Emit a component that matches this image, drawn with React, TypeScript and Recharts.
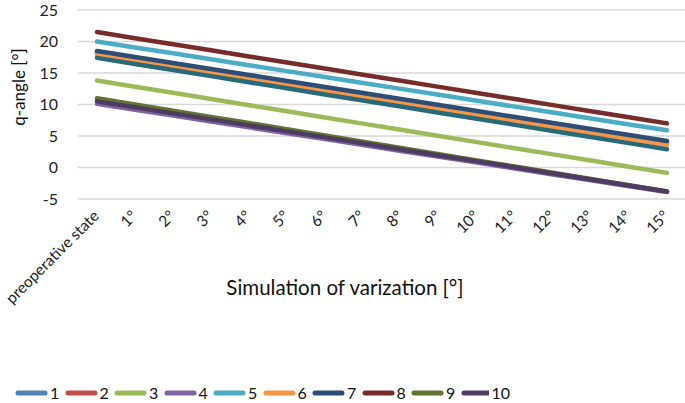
import React from "react"
import { LineChart, Line, XAxis, YAxis, CartesianGrid } from "recharts"

const categories = [
  "preoperative state", "1°", "2°", "3°", "4°", "5°", "6°", "7°",
  "8°", "9°", "10°", "11°", "12°", "13°", "14°", "15°",
]

const s1 = [18.3, 17.35, 16.4, 15.44, 14.49, 13.53, 12.58, 11.63, 10.68, 9.72, 8.77, 7.81, 6.86, 5.91, 4.95, 4.0]
const s2 = [18.1, 17.15, 16.2, 15.24, 14.29, 13.33, 12.38, 11.43, 10.48, 9.52, 8.57, 7.61, 6.66, 5.71, 4.75, 3.8]
const s3 = [13.8, 12.82, 11.85, 10.87, 9.89, 8.92, 7.94, 6.96, 5.98, 5.01, 4.03, 3.05, 2.08, 1.1, 0.12, -0.85]
const s4 = [10.1, 9.17, 8.23, 7.3, 6.37, 5.43, 4.5, 3.57, 2.63, 1.7, 0.77, -0.17, -1.1, -2.03, -2.97, -3.9]
const s5 = [20.0, 19.06, 18.12, 17.18, 16.24, 15.3, 14.36, 13.42, 12.48, 11.54, 10.6, 9.66, 8.72, 7.78, 6.84, 5.9]
const s6 = [17.9, 16.95, 16.0, 15.04, 14.09, 13.13, 12.18, 11.23, 10.28, 9.32, 8.37, 7.41, 6.46, 5.51, 4.55, 3.6]
const s7 = [18.5, 17.55, 16.59, 15.64, 14.69, 13.73, 12.78, 11.83, 10.87, 9.92, 8.97, 8.02, 7.06, 6.11, 5.15, 4.2]
const s8 = [21.5, 20.53, 19.57, 18.6, 17.63, 16.67, 15.7, 14.73, 13.77, 12.8, 11.83, 10.87, 9.9, 8.93, 7.97, 7.0]
const s9 = [11.0, 10.01, 9.03, 8.04, 7.05, 6.07, 5.08, 4.09, 3.11, 2.12, 1.13, 0.15, -0.84, -1.83, -2.81, -3.8]
const s10 = [10.5, 9.55, 8.59, 7.64, 6.69, 5.73, 4.78, 3.83, 2.87, 1.92, 0.97, 0.02, -0.94, -1.89, -2.85, -3.8]
// 11th series is drawn but has no legend entry in the original
const s11 = [17.4, 16.43, 15.47, 14.5, 13.53, 12.57, 11.6, 10.63, 9.67, 8.7, 7.73, 6.77, 5.8, 4.83, 3.87, 2.9]

const yTicks = [-5, 0, 5, 10, 15, 20, 25]

const series = [
  { key: "1", values: s1, color: "#4F81BD" },
  { key: "2", values: s2, color: "#C0504D" },
  { key: "3", values: s3, color: "#9BBB59" },
  { key: "4", values: s4, color: "#8064A2" },
  { key: "5", values: s5, color: "#4BACC6" },
  { key: "6", values: s6, color: "#F79646" },
  { key: "7", values: s7, color: "#2C4D75" },
  { key: "8", values: s8, color: "#772C2A" },
  { key: "9", values: s9, color: "#5F7530" },
  { key: "10", values: s10, color: "#4D3B62" },
  { key: "11", values: s11, color: "#276A7C" },
]

const data = categories.map((c, i) => {
  const row: any = { name: c }
  series.forEach((s) => (row[s.key] = s.values[i]))
  return row
})

const font = "Lato, 'Open Sans', sans-serif"

const XTick = ({ x, y, payload }: any) => (
  <g transform={`translate(${x + 3},${y + 10})`}>
    <text x={0} y={0} textAnchor="end" transform="rotate(-45)" fontSize={15.5} fill="#222" fontFamily={font}>
      {payload.value}
    </text>
  </g>
)

export default function App() {
  return (
    <div style={{ position: "absolute", left: 0, top: 0, width: 685, height: 403, background: "#fff" }}>
      <LineChart width={685} height={403} data={data} margin={{ top: 10, right: 0, bottom: 0, left: 0 }}>
        <CartesianGrid vertical={false} stroke="#D9D9D9" strokeWidth={1.5} />
        <XAxis
          dataKey="name"
          interval={0}
          height={204}
          tickLine={false}
          axisLine={false}
          padding={{ left: 19, right: 18 }}
          tick={<XTick />}
          label={{
            content: () => (
              <text x={345} y={295} textAnchor="middle" fontSize={20.5} fill="#111" fontFamily={font}>
                Simulation of varization [°]
              </text>
            ),
          }}
        />
        <YAxis
          width={78}
          domain={[-5, 25]}
          ticks={yTicks}
          interval={0}
          tickLine={false}
          axisLine={false}
          tickMargin={14}
          tick={{ fontSize: 16, fill: "#222", fontFamily: font }}
          label={{
            content: () => (
              <text
                x={25}
                y={87}
                textAnchor="middle"
                transform="rotate(-90, 25, 87)"
                fontSize={17}
                fill="#111"
                fontFamily={font}
              >
                q-angle [°]
              </text>
            ),
          }}
        />
        {series.map((s) => (
          <Line
            key={s.key}
            dataKey={s.key}
            stroke={s.color}
            strokeWidth={4.5}
            strokeLinecap="round"
            dot={false}
            activeDot={false}
            isAnimationActive={false}
          />
        ))}
      </LineChart>
      <div
        style={{
          position: "absolute",
          left: 15,
          top: 383,
          display: "flex",
          alignItems: "center",
          fontFamily: font,
          fontSize: 16,
          color: "#111",
        }}
      >
        {series.slice(0, 10).map((s) => (
          <div key={s.key} style={{ display: "flex", alignItems: "center", width: 49.5 }}>
            <svg width={33} height={6} style={{ marginRight: 2 }}>
              <line x1={3} y1={3} x2={30} y2={3} stroke={s.color} strokeWidth={5} strokeLinecap="round" />
            </svg>
            <span>{s.key}</span>
          </div>
        ))}
      </div>
    </div>
  )
}
